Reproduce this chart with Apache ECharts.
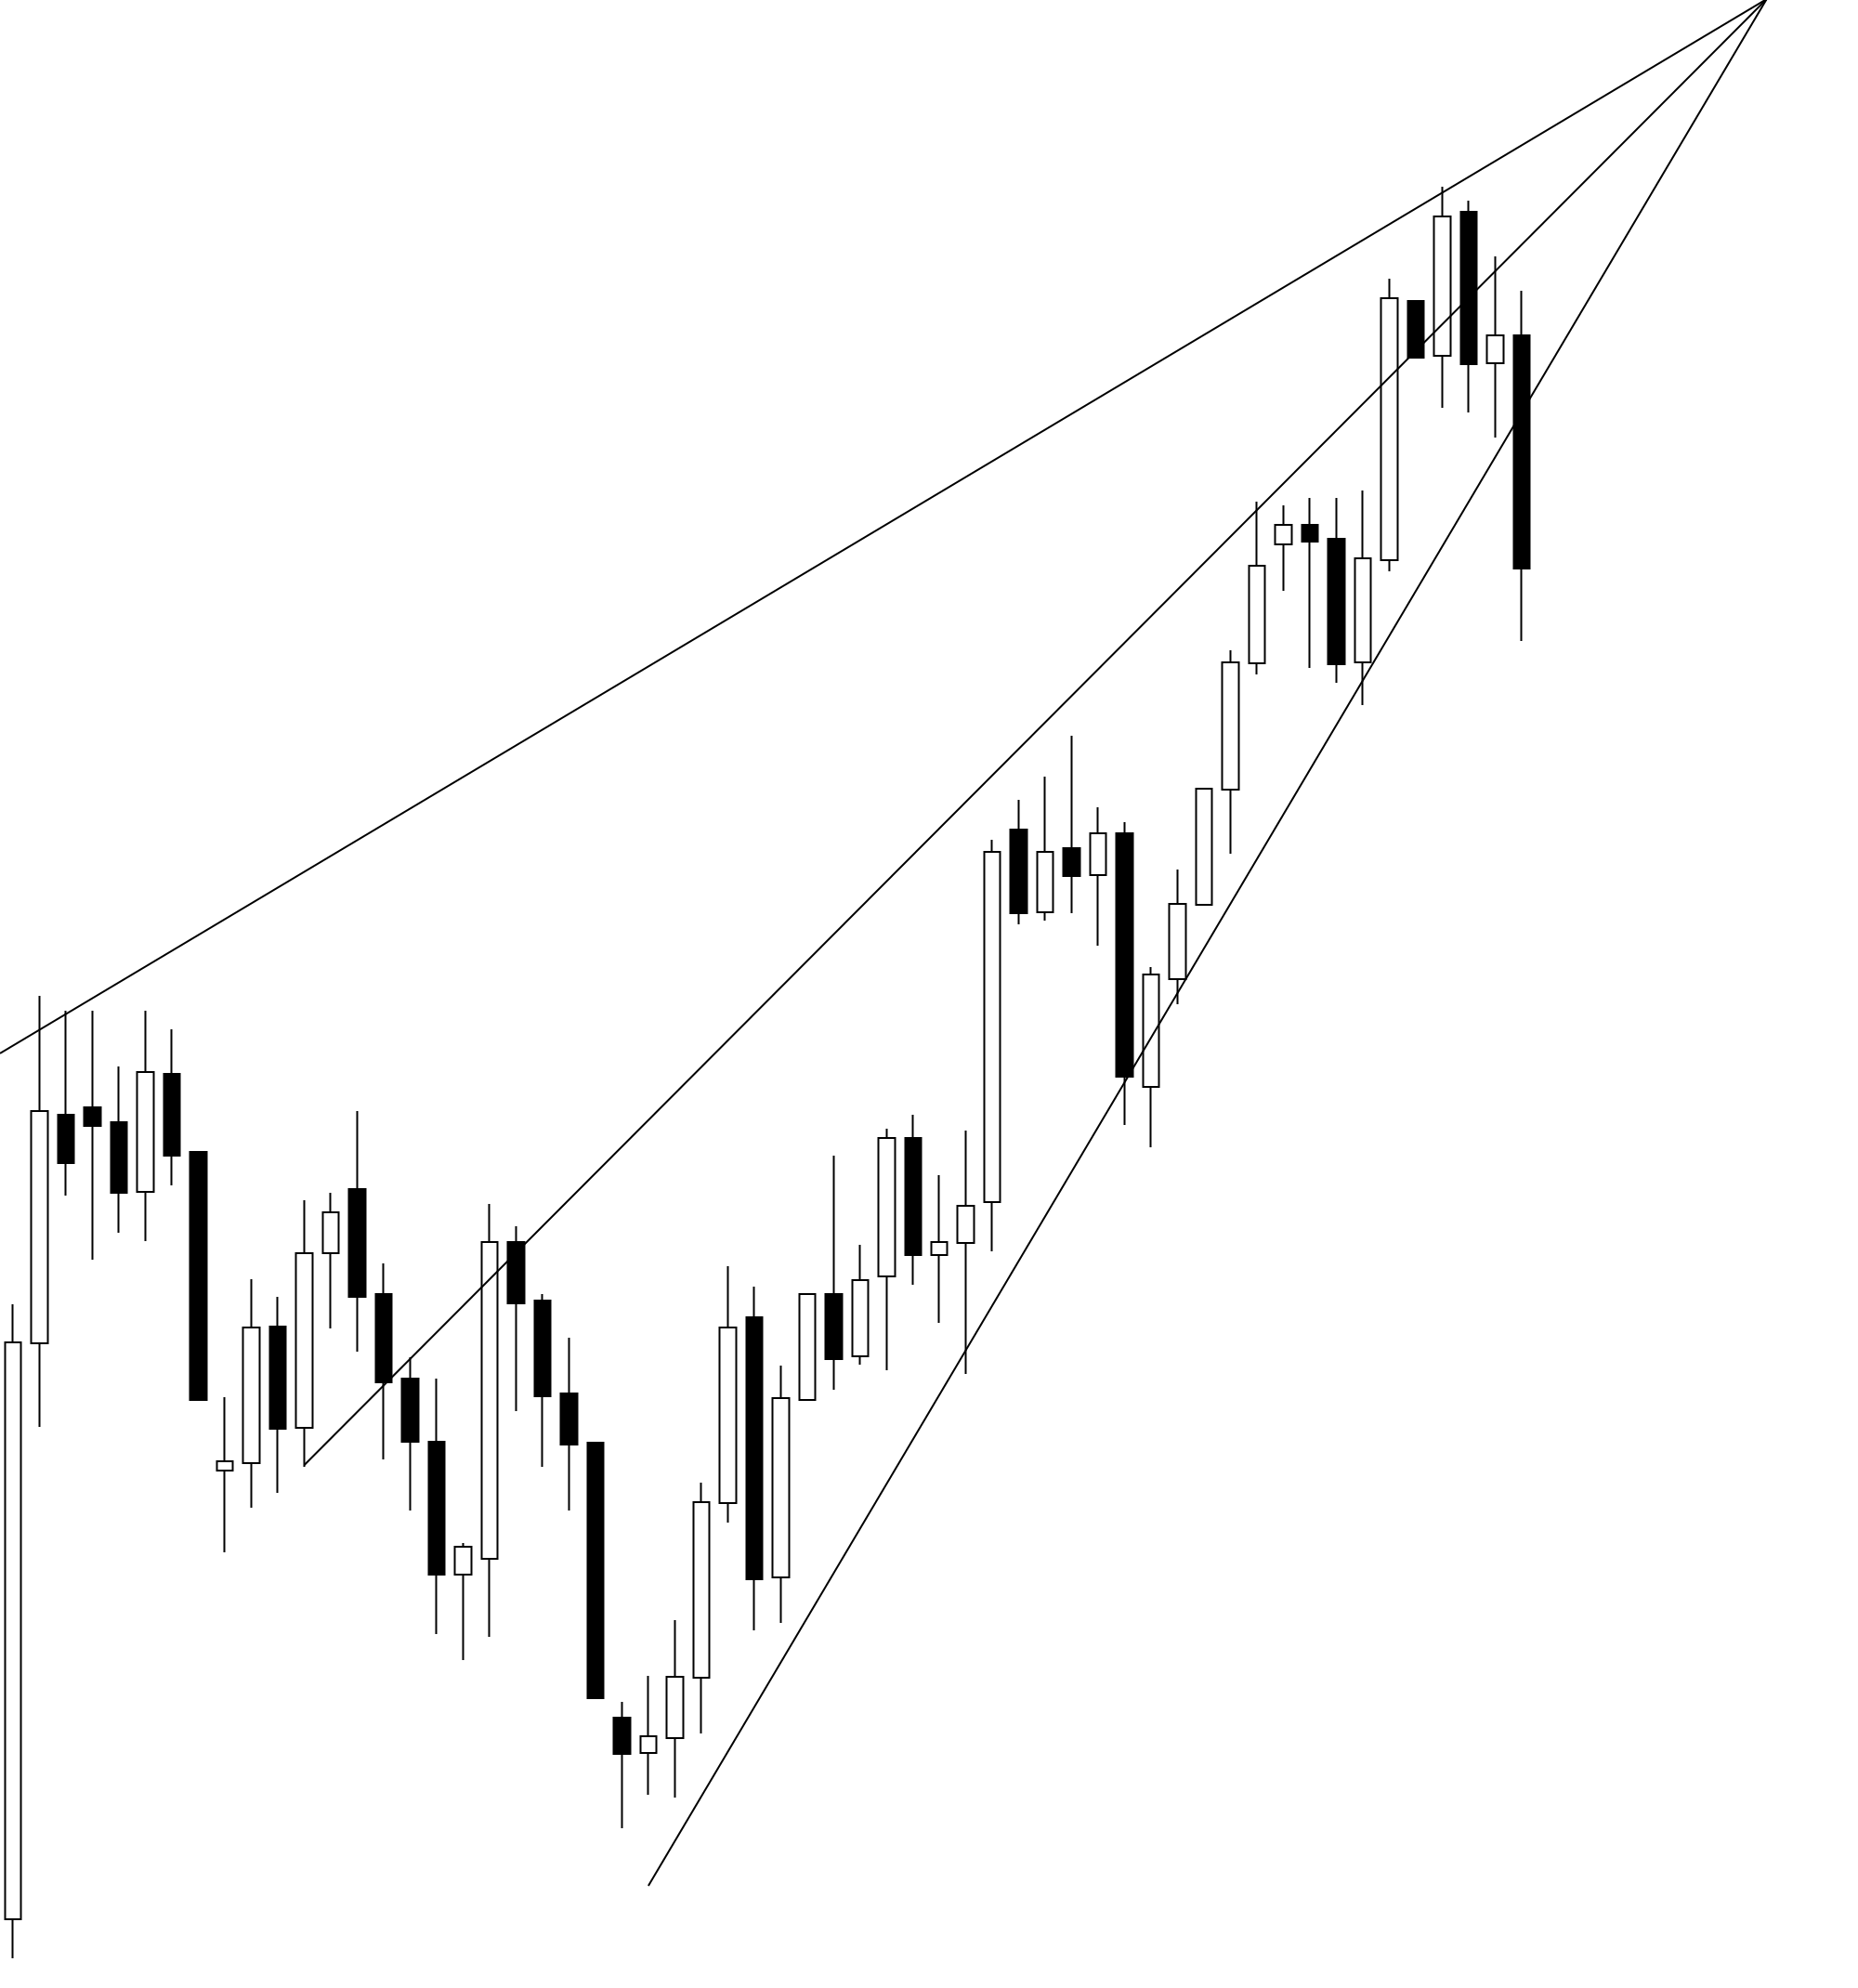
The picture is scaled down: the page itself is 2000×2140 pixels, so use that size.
<!DOCTYPE html>
<html>
<head>
<meta charset="utf-8">
<script src="https://cdn.jsdelivr.net/npm/echarts@6/dist/echarts.min.js"></script>
<style>
html,body{margin:0;padding:0;background:#fff;}
#chart{width:2000px;height:2140px;}
</style>
</head>
<body>
<div id="chart"></div>
<script>
// 58 sessions + empty slots to the right (where the fan lines converge)
const sessions = 58;
const totalSlots = 70;
const categories = Array.from({length: totalSlots}, (_, i) => String(i + 1));

const opens  = [7.4,69.4,94.0,94.8,93.2,85.7,98.4,90.0,55.7,56.5,71.2,60.3,79.1,86.0,74.7,65.6,58.8,44.5,46.2,80.3,74.0,64.0,58.7,29.1,25.3,26.9,33.4,52.2,72.2,44.2,63.3,74.7,68.0,76.6,91.5,78.9,80.2,84.6,124.7,115.8,122.7,119.8,124.3,97.0,108.6,116.6,129.0,142.6,155.4,157.5,156.0,142.7,153.7,181.6,175.7,191.2,174.9,177.9];
const closes = [69.5,94.4,88.8,92.8,85.6,98.6,89.6,63.3,56.7,71.1,60.2,79.1,83.5,74.4,65.2,58.8,44.5,47.5,80.3,73.7,63.7,58.5,31.2,25.2,27.1,33.5,52.3,71.1,44.0,63.5,74.7,67.7,76.2,91.5,78.9,80.3,84.2,122.3,115.7,122.3,119.7,124.3,98.1,109.1,116.7,129.1,142.7,153.1,157.5,155.7,142.5,153.9,181.9,175.5,190.7,174.8,177.9,152.8];
const lows   = [3.2,60.4,85.3,78.4,81.3,80.4,86.4,63.3,46.9,51.7,53.3,56.1,71.0,68.5,56.9,51.4,38.1,35.3,37.8,62.1,56.1,51.4,31.2,17.2,20.8,20.5,27.4,50.1,38.5,39.3,63.3,64.4,67.1,66.5,75.7,71.6,66.1,79.3,114.5,114.9,115.7,112.2,92.9,90.5,105.9,116.6,122.1,141.4,150.4,142.1,140.5,138.1,152.5,175.5,170.1,169.6,166.9,145.0];
const highs  = [73.6,106.8,105.2,105.2,99.2,105.2,103.2,90.0,63.6,76.3,74.4,84.8,85.6,94.4,78.0,67.9,65.6,47.9,84.4,82.0,74.7,70.0,58.7,30.8,33.6,39.6,54.4,77.7,75.5,67.0,74.7,89.6,80.0,92.5,94.0,87.5,92.3,123.6,127.9,130.4,134.8,127.1,125.5,109.9,120.4,129.1,144.0,160.0,159.6,160.4,160.4,161.2,184.0,181.6,193.9,192.4,186.4,182.7];

// fan lines: [slot index, price] pairs
const fanTop = [[-0.5,100.6],[66.26,214.1]];
const fanMid = [[11,56.3],[66.26,214.1]];
const fanLow = [[24,11.0],[66.26,214.1]];

const candleData = opens.map((o, i) => [o, closes[i], lows[i], highs[i]]);

const chart = echarts.init(document.getElementById('chart'), null, {renderer: 'canvas'});
const fanStyle = {color: '#000', width: 2};
const fanSeries = (d) => ({
  type: 'line', xAxisIndex: 1, yAxisIndex: 0, data: d,
  symbol: 'none', silent: true, lineStyle: fanStyle, z: 3
});
chart.setOption({
  animation: false,
  backgroundColor: '#fff',
  grid: {left: -2, right: 6, top: 0, bottom: 0, containLabel: false},
  xAxis: [
    {type: 'category', data: categories, boundaryGap: true, show: false},
    {type: 'value', min: -0.5, max: totalSlots - 0.5, show: false}
  ],
  yAxis: {type: 'value', min: 0, max: 214, show: false, splitLine: {show: false}},
  series: [
    fanSeries(fanTop),
    fanSeries(fanMid),
    fanSeries(fanLow),
    {
      type: 'candlestick',
      data: candleData,
      barWidth: 18,
      z: 2,
      itemStyle: {
        color: '#fff', color0: '#000',
        borderColor: '#000', borderColor0: '#000',
        borderColorDoji: '#000',
        borderWidth: 2
      }
    }
  ]
});
</script>
</body>
</html>
